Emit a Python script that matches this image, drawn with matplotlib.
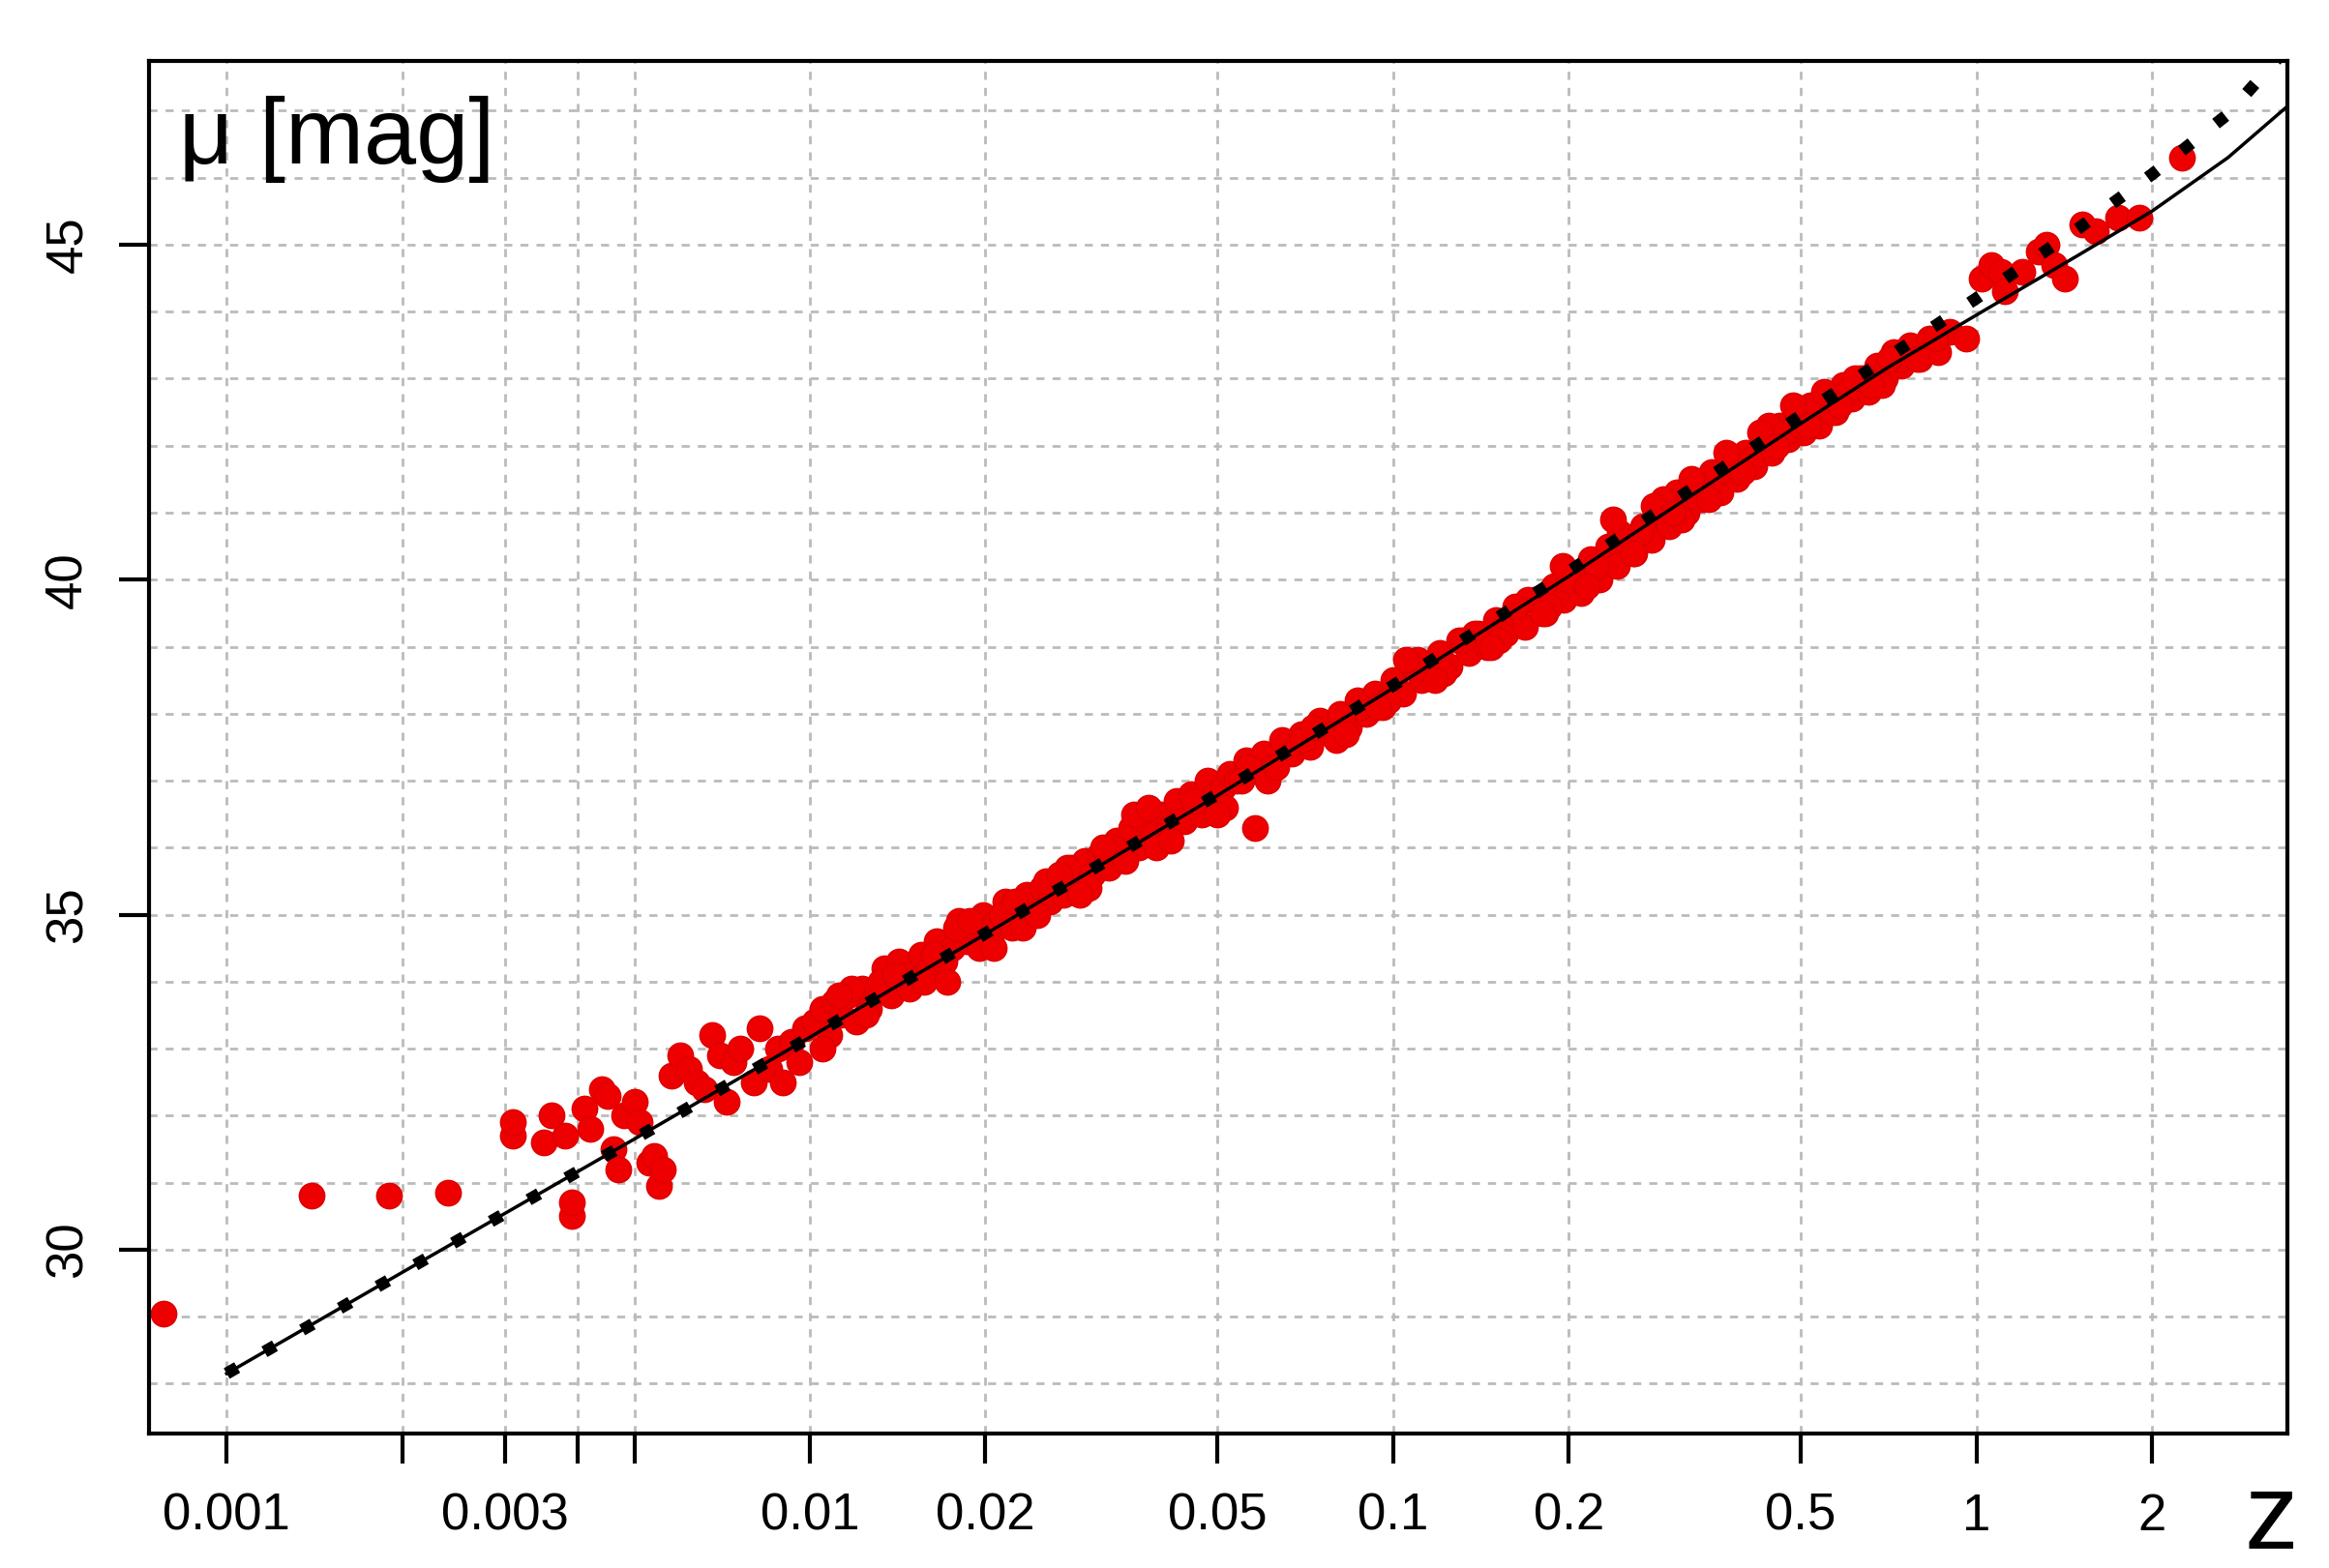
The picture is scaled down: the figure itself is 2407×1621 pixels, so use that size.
import matplotlib
matplotlib.use("Agg")
import matplotlib.pyplot as plt

plt.rcParams['font.family'] = ['Liberation Sans', 'DejaVu Sans']

# supernova data
z_sn = [0.00078, 0.0014, 0.0019, 0.0024,
        0.0031, 0.0031, 0.0035, 0.0036, 0.0038, 0.0039, 0.0039, 0.0041, 0.0042, 0.0044, 0.0045,
        0.0046, 0.0047, 0.0048, 0.0050, 0.0051, 0.0053, 0.0054, 0.0055, 0.0056, 0.0058, 0.0060,
        0.0062, 0.0064, 0.0066, 0.0068, 0.0070, 0.0072, 0.0074, 0.0076, 0.0080, 0.0082, 0.0085,
        0.0088, 0.0090, 0.0093, 0.0096, 0.0098,
        0.0102, 0.0105, 0.0108, 0.0110, 0.0113, 0.0116, 0.0120, 0.0123, 0.0126, 0.0130, 0.0134,
        0.0138, 0.0142, 0.0146, 0.0150, 0.0155, 0.0160, 0.0165, 0.0170, 0.0175, 0.0180, 0.0186,
        0.0192, 0.0198, 0.0204, 0.0210, 0.0216, 0.0222, 0.0228, 0.0235, 0.0242, 0.0250, 0.0258,
        0.0265, 0.0272, 0.0280, 0.0288, 0.0296, 0.0305, 0.0315, 0.0325, 0.0335, 0.0345, 0.0355,
        0.0366, 0.0377, 0.0388, 0.0400, 0.0412, 0.0425, 0.0438, 0.0450, 0.0465, 0.0480, 0.0495,
        0.0510, 0.0525, 0.0540, 0.0560, 0.0580, 0.0600, 0.0620, 0.0645, 0.0670, 0.0695, 0.0720,
        0.0750, 0.0780, 0.0810, 0.0840, 0.0870, 0.0900, 0.0930, 0.0960,
        0.100, 0.104, 0.108, 0.112, 0.116, 0.120, 0.125, 0.130, 0.135, 0.140, 0.145, 0.150,
        0.156, 0.162, 0.168, 0.175, 0.182, 0.189, 0.196, 0.203, 0.210, 0.218, 0.226, 0.234,
        0.242, 0.250, 0.259, 0.268, 0.277, 0.287, 0.297, 0.307, 0.318, 0.329, 0.340, 0.352,
        0.364, 0.376, 0.389, 0.402, 0.416, 0.430, 0.445, 0.460, 0.475, 0.490, 0.505, 0.520,
        0.537, 0.555, 0.573, 0.592, 0.612, 0.632, 0.653, 0.675, 0.697, 0.720, 0.744, 0.770,
        0.800, 0.830, 0.860, 0.900,
        0.0105, 0.0118, 0.0132, 0.0148, 0.0163, 0.0178, 0.0195, 0.0213, 0.0232, 0.0254, 0.0276,
        0.0300, 0.0330, 0.0360, 0.0393, 0.0430, 0.0470, 0.0515, 0.0565, 0.0610, 0.0700, 0.0800,
        0.0880, 0.0980, 0.110, 0.122, 0.138, 0.152, 0.170, 0.185, 0.200, 0.222, 0.245, 0.265,
        0.290, 0.312, 0.335, 0.360, 0.385, 0.410, 0.440, 0.470, 0.500, 0.530, 0.565, 0.600,
        0.640, 0.690, 0.740, 0.790, 0.850,
        0.0112, 0.0125, 0.0140, 0.0157, 0.0172, 0.0188, 0.0207, 0.0225, 0.0245, 0.0268, 0.0290,
        0.0318, 0.0348, 0.0380, 0.0415, 0.0455, 0.0500, 0.0550, 0.0630, 0.0730, 0.0830, 0.0940,
        0.105, 0.118, 0.132, 0.147, 0.162, 0.180, 0.195, 0.215, 0.238, 0.258, 0.280, 0.302,
        0.325, 0.348, 0.372, 0.398, 0.425, 0.455, 0.485, 0.515, 0.548, 0.582, 0.620, 0.660, 0.710,
        0.96, 1.02, 1.06, 1.10, 1.12, 1.20, 1.28, 1.32, 1.36, 1.42, 1.52, 1.60, 1.75, 1.90, 2.25]
mu_sn = [29.05, 30.8, 30.8, 30.85,
         31.7, 31.9, 31.6, 32.0, 31.7, 30.5, 30.7, 32.1, 31.8, 32.4, 32.3,
         31.5, 31.2, 32.0, 32.2, 31.9, 31.3, 31.4, 30.95, 31.2, 32.6, 32.9,
         32.7, 32.5, 32.4, 33.2, 32.9, 32.2, 32.8, 33.0, 32.5, 33.3, 32.7,
         33.0, 32.5, 33.1, 32.8, 33.3,
         33.4, 33.6, 33.2, 33.7, 33.5, 33.8, 33.4, 33.9, 33.6, 33.9, 34.2,
         33.8, 34.3, 34.1, 34.0, 34.4, 34.2, 34.6, 34.3, 34.5, 34.9, 34.6,
         34.8, 35.0, 34.6, 34.9, 35.2, 34.8, 35.1, 35.3, 35.0, 35.4, 35.2,
         35.5, 35.3, 35.7, 35.4, 35.8, 35.6, 35.9, 35.7, 36.1, 35.9, 36.3,
         36.0, 36.4, 36.2, 36.5, 36.3, 36.7, 36.4, 36.8, 36.6, 37.0, 36.8,
         36.9, 37.1, 37.0, 37.3, 36.3, 37.4, 37.2, 37.6, 37.4, 37.7, 37.5,
         37.9, 37.7, 38.0, 37.8, 38.2, 38.0, 38.3, 38.1,
         38.5, 38.3, 38.7, 38.5, 38.6, 38.9, 38.7, 39.1, 38.9, 39.2, 39.0, 39.4,
         39.2, 39.5, 39.3, 39.7, 39.5, 39.9, 39.7, 40.1, 39.8, 40.3, 40.0, 40.5,
         40.2, 40.6, 40.4, 40.8, 40.6, 41.0, 40.8, 41.3, 41.0, 41.4, 41.2, 41.6,
         41.3, 41.7, 41.5, 41.9, 41.7, 42.1, 41.9, 42.3, 42.1, 42.4, 42.2, 42.6,
         42.3, 42.7, 42.5, 42.9, 42.7, 43.0, 42.8, 43.2, 43.0, 43.4, 43.2, 43.5,
         43.3, 43.6, 43.4, 43.7,
         33.0, 33.9, 34.0, 33.9, 34.4, 34.8, 34.5, 35.0, 34.8, 35.5, 35.7,
         35.4, 36.0, 36.5, 36.0, 36.4, 36.5, 36.6, 37.2, 37.0, 37.6, 37.6,
         38.1, 38.2, 38.8, 38.6, 39.2, 39.1, 39.7, 39.6, 40.0, 40.2, 40.7, 40.7,
         41.2, 40.9, 41.2, 41.6, 41.7, 41.8, 42.3, 42.2, 42.3, 42.6, 42.5, 42.8,
         43.0, 42.9, 43.3, 43.3, 43.6,
         33.8, 33.5, 34.1, 34.0, 34.0, 34.9, 34.5, 35.2, 35.0, 35.6, 35.3,
         36.0, 35.8, 36.6, 36.1, 36.7, 36.5, 37.0, 37.2, 37.8, 37.7, 38.1,
         38.8, 38.5, 39.1, 39.0, 39.6, 39.5, 40.2, 39.9, 40.9, 40.4, 41.1, 41.0,
         41.5, 41.2, 41.9, 41.6, 42.2, 42.0, 42.6, 42.3, 42.8, 42.6, 43.0, 42.9, 43.3,
         43.6, 44.5, 44.7, 44.6, 44.3, 44.6, 44.9, 45.0, 44.7, 44.5, 45.3, 45.2, 45.4, 45.4, 46.3]

# model curves
z_lcdm = [0.001, 0.002, 0.005, 0.01, 0.02, 0.05, 0.1, 0.2, 0.3, 0.5, 0.7, 1.0, 1.5, 2.0, 2.7, 3.45]
mu_lcdm = [28.15, 29.66, 31.65, 33.17, 34.71, 36.78, 38.38, 40.05, 41.06, 42.33, 43.15, 43.95, 44.85, 45.5, 46.3, 47.1]
z_alt = [0.001, 0.002, 0.005, 0.01, 0.02, 0.05, 0.1, 0.2, 0.3, 0.5, 0.7, 1.0, 1.5, 2.0, 2.7, 3.3]
mu_alt = [28.15, 29.66, 31.65, 33.17, 34.72, 36.8, 38.42, 40.12, 41.15, 42.45, 43.3, 44.2, 45.25, 46.05, 46.95, 47.8]

xticks = [0.001, 0.002, 0.003, 0.004, 0.005, 0.01, 0.02, 0.05, 0.1, 0.2, 0.5, 1, 2]
xlabels = ["0.001", "", "0.003", "", "", "0.01", "0.02", "0.05", "0.1", "0.2", "0.5", "1", "2"]
yticks = [30, 35, 40, 45]

fig = plt.figure(figsize=(24.07, 16.21), dpi=100)
ax = fig.add_axes([0.064, 0.086, 0.918, 0.875])
ax.set_xscale("log")
ax.set_xlim(0.000736, 3.41)
ax.set_ylim(27.26, 47.74)

for t in xticks:
    ax.axvline(t, color="#bbbbbb", lw=2, ls=(0, (3, 3)), zorder=0)
for y in range(28, 48):
    ax.axhline(y, color="#bbbbbb", lw=2, ls=(0, (3, 3)), zorder=0)

ax.plot(z_sn, mu_sn, "o", color="#ee0000", ms=19, mec="#dd0000", zorder=2)
ax.plot(z_lcdm, mu_lcdm, "-", color="black", lw=2.5, zorder=3)
ax.plot(z_alt, mu_alt, color="black", lw=9, ls=(0, (1.0, 2.6)), zorder=4)

ax.set_xticks(xticks)
ax.set_xticklabels(xlabels)
ax.xaxis.set_minor_locator(matplotlib.ticker.NullLocator())
ax.set_yticks(yticks)
ax.set_yticklabels([str(v) for v in yticks], rotation=90, va="center")
ax.tick_params(axis="both", length=22, width=3, labelsize=38, color="black")
ax.tick_params(axis="x", pad=22)
ax.tick_params(axis="y", pad=20)
for s in ax.spines.values():
    s.set_linewidth(3)

ax.text(0.014, 0.975, "μ [mag]", transform=ax.transAxes, fontsize=70, va="top", ha="left")
fig.text(0.975, 0.03, "z", fontsize=80, ha="center", va="center")

fig.savefig("out.png", dpi=100)
